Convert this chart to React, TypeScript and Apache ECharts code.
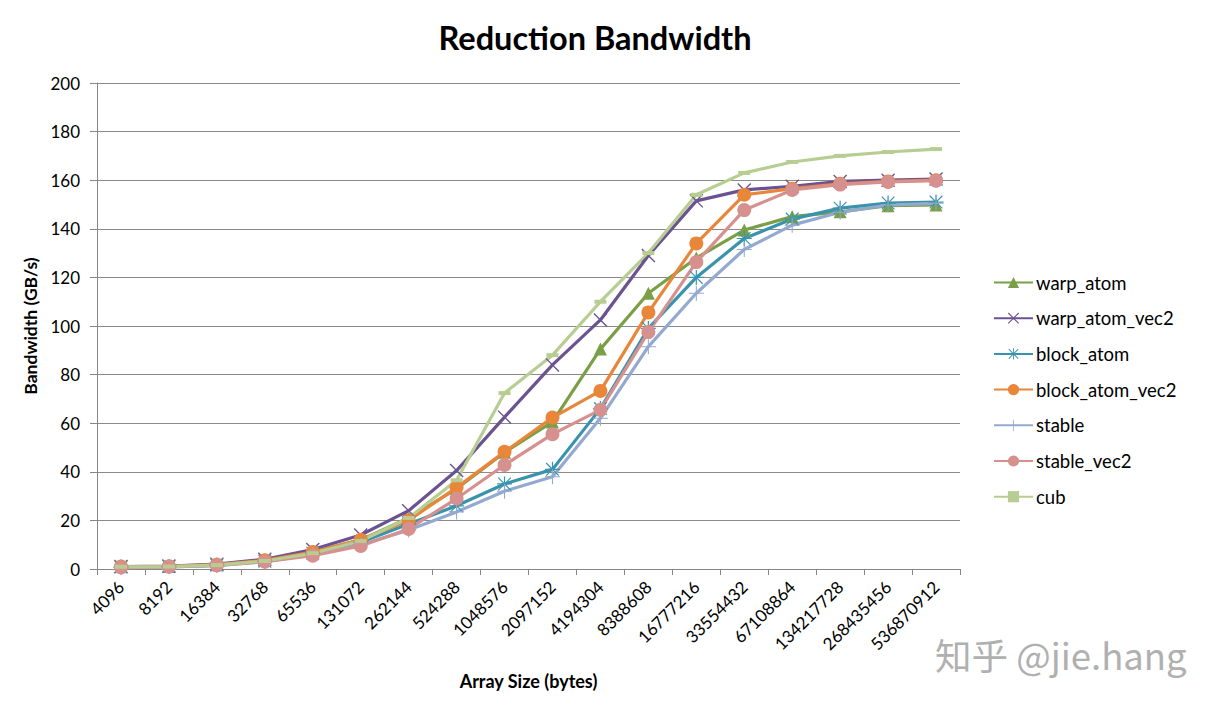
import React, { useEffect, useRef } from "react";
import * as echarts from "echarts";

const categories = [
  "4096", "8192", "16384", "32768", "65536", "131072", "262144", "524288", "1048576",
  "2097152", "4194304", "8388608", "16777216", "33554432", "67108864", "134217728",
  "268435456", "536870912",
];

const warpAtom = [1, 1, 1.7, 3.5, 7, 12, 21, 33, 48, 60.5, 90.5, 113.5, 128, 139.5, 145, 147, 149.5, 149.8];
const warpAtomVec2 = [1, 1.2, 2, 4, 8, 14, 24, 40.5, 62.5, 84, 102.5, 129, 151.5, 156, 157.5, 159.5, 160, 160.5];
const blockAtom = [0.8, 1, 1.6, 3.2, 6.5, 11, 18.5, 26, 35, 41, 66, 99, 120, 136, 144, 148.5, 150.6, 151];
const blockAtomVec2 = [1, 1.1, 1.8, 3.6, 7, 12, 20, 33.5, 48.2, 62.3, 73.3, 105.6, 134, 154, 156.5, 158.5, 159.5, 160];
const stable = [0.7, 0.9, 1.4, 3, 6, 10, 16, 23.5, 32, 38, 62, 91.5, 113.5, 131.5, 141.5, 146.8, 149.8, 150.5];
const stableVec2 = [0.6, 0.9, 1.5, 3, 5.5, 9.5, 16.5, 29, 42.8, 55.5, 65.5, 97.5, 126.3, 147.7, 156, 158.2, 159.3, 159.8];
const cub = [0.9, 1, 1.6, 3.3, 6.5, 11.5, 21, 36.5, 72.4, 88, 110, 130, 154, 163, 167.5, 170, 171.6, 172.8];

const seriesNames = ["warp_atom", "warp_atom_vec2", "block_atom", "block_atom_vec2", "stable", "stable_vec2", "cub"];
const yTicks = { min: 0, max: 200, interval: 20 };

const X_PATH =
  "path://M1.4,0 L20,18.6 L18.6,20 L0,1.4 Z M18.6,0 L20,1.4 L1.4,20 L0,18.6 Z";
const ASTERISK_PATH =
  "path://M9.2,0 L10.8,0 L10.8,20 L9.2,20 Z M0,9.2 L20,9.2 L20,10.8 L0,10.8 Z M2.1,1 L19,17.9 L17.9,19 L1,2.1 Z M17.9,1 L19,2.1 L2.1,19 L1,17.9 Z";
const PLUS_PATH = "path://M9.3,0 L10.7,0 L10.7,20 L9.3,20 Z M0,9.3 L20,9.3 L20,10.7 L0,10.7 Z";

const FONT = "Lato, 'Open Sans', sans-serif";

export default function App() {
  const ref = useRef<HTMLDivElement>(null);

  useEffect(() => {
    if (!ref.current) return;
    const chart = echarts.init(ref.current, null, { renderer: "svg" });

    const mk = (
      name: string,
      data: number[],
      color: string,
      symbol: string,
      symbolSize: number | number[]
    ) => ({
      name,
      type: "line",
      data,
      symbol,
      symbolSize,
      showSymbol: true,
      color,
      lineStyle: { color, width: 3.2 },
      itemStyle: { color },
      emphasis: { disabled: true },
    });

    const series = [
      mk(seriesNames[0], warpAtom, "#7a9f47", "triangle", 13),
      mk(seriesNames[1], warpAtomVec2, "#6b5392", X_PATH, 14),
      mk(seriesNames[2], blockAtom, "#3a93ad", ASTERISK_PATH, 15),
      mk(seriesNames[3], blockAtomVec2, "#e8863a", "circle", 14),
      mk(seriesNames[4], stable, "#93a9cf", PLUS_PATH, 15),
      mk(seriesNames[5], stableVec2, "#d6918f", "circle", 14),
      mk(seriesNames[6], cub, "#b7cd92", "rect", [12, 4]),
    ];

    chart.setOption({
      animation: false,
      backgroundColor: "#ffffff",
      title: {
        text: "Reduction Bandwidth",
        left: 590,
        textAlign: "center",
        top: 16,
        textStyle: { fontFamily: FONT, fontSize: 32.5, fontWeight: "bold", color: "#000" },
      },
      legend: {
        orient: "vertical",
        left: 988,
        top: 268,
        itemWidth: 39,
        itemHeight: 14,
        itemGap: 16.7,
        data: seriesNames,
        textStyle: { fontFamily: FONT, fontSize: 18.5, color: "#000", padding: [0, 0, 0, -2] },
      },
      grid: { left: 97, right: 258, top: 83, bottom: 139, containLabel: false },
      xAxis: {
        type: "category",
        data: categories,
        boundaryGap: true,
        name: "Array Size (bytes)",
        nameLocation: "middle",
        nameGap: 103,
        nameTextStyle: { fontFamily: FONT, fontSize: 18, fontWeight: "bold", color: "#000" },
        axisLine: { lineStyle: { color: "#868686", width: 1 } },
        axisTick: { show: true, alignWithLabel: false, length: 6, lineStyle: { color: "#868686" } },
        axisLabel: {
          rotate: 45,
          fontFamily: FONT,
          fontSize: 17,
          color: "#000",
          margin: 15,
          interval: 0,
        },
        splitLine: { show: false },
      },
      yAxis: {
        type: "value",
        min: yTicks.min,
        max: yTicks.max,
        interval: yTicks.interval,
        name: "Bandwidth (GB/s)",
        nameLocation: "middle",
        nameGap: 58,
        nameRotate: 90,
        nameTextStyle: { fontFamily: FONT, fontSize: 17.5, fontWeight: "bold", color: "#000" },
        axisLine: { show: true, lineStyle: { color: "#868686", width: 1 } },
        axisTick: { show: true, length: 7, lineStyle: { color: "#868686" } },
        axisLabel: { fontFamily: FONT, fontSize: 17, color: "#000", margin: 17 },
        splitLine: { show: true, lineStyle: { color: "#8a8a8a", width: 1 } },
      },
      graphic: [
        {
          type: "text",
          left: 935,
          top: 636,
          silent: true,
          style: {
            text: "知乎 @jie.hang",
            font: "36.5px 'Noto Sans CJK SC', sans-serif",
            fill: "#b0b0b0",
          },
        },
      ],
      series,
    });

    return () => chart.dispose();
  }, []);

  return <div ref={ref} style={{ width: 1218, height: 708, position: "absolute", left: 0, top: 0 }} />;
}
